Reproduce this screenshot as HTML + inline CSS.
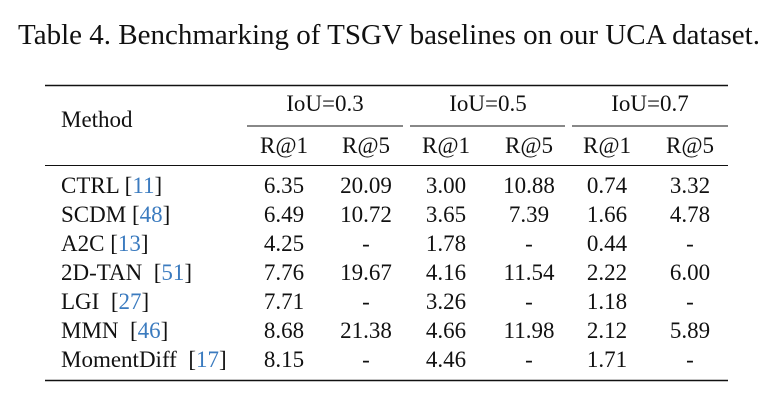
<!DOCTYPE html>
<html><head><meta charset="utf-8"><style>
body{margin:0;background:#fff;}
svg text{font-family:"Liberation Serif",serif;fill:#111;}
</style></head><body>
<svg width="778" height="411">
<text x="389" y="44" font-size="29" text-anchor="middle">Table 4. Benchmarking of TSGV baselines on our UCA dataset.</text>
<line x1="45" x2="728" y1="85.5" y2="85.5" stroke="#111" stroke-width="1.6"/>
<line x1="45" x2="728" y1="165.5" y2="165.5" stroke="#111" stroke-width="1"/>
<line x1="45" x2="728" y1="380.5" y2="380.5" stroke="#111" stroke-width="1.6"/>
<line x1="247" x2="403" y1="126" y2="126" stroke="#111" stroke-width="1"/>
<line x1="410" x2="565" y1="126" y2="126" stroke="#111" stroke-width="1"/>
<line x1="572" x2="728" y1="126" y2="126" stroke="#111" stroke-width="1"/>
<g font-size="23">
<text x="61" y="127">Method</text>
<text x="325" y="111" text-anchor="middle">IoU=0.3</text>
<text x="488" y="111" text-anchor="middle">IoU=0.5</text>
<text x="650" y="111" text-anchor="middle">IoU=0.7</text>
</g>
<g id="body" font-size="23"></g>
</svg>
<script>
const methods=["CTRL","SCDM","A2C","2D-TAN","LGI","MMN","MomentDiff"];
const refs=["11","48","13","51","27","46","17"];
const subHeaders=["R@1","R@5","R@1","R@5","R@1","R@5"];
const iou03r1=["6.35","6.49","4.25","7.76","7.71","8.68","8.15"];
const iou03r5=["20.09","10.72","-","19.67","-","21.38","-"];
const iou05r1=["3.00","3.65","1.78","4.16","3.26","4.66","4.46"];
const iou05r5=["10.88","7.39","-","11.54","-","11.98","-"];
const iou07r1=["0.74","1.66","0.44","2.22","1.18","2.12","1.71"];
const iou07r5=["3.32","4.78","-","6.00","-","5.89","-"];
const cols=[iou03r1,iou03r5,iou05r1,iou05r5,iou07r1,iou07r5];
const colX=[284,366,446,529,607,690];
const NS="http://www.w3.org/2000/svg";
const g=document.getElementById('body');
function txt(x,y,s,anchor){const t=document.createElementNS(NS,'text');t.setAttribute('x',x);t.setAttribute('y',y);if(anchor)t.setAttribute('text-anchor',anchor);t.textContent=s;g.appendChild(t);return t;}
subHeaders.forEach((h,i)=>{const t=txt(colX[i],153,h,'middle');

});
methods.forEach((m,r)=>{const y=193+r*29;
const t=txt(61,y,'','start');


t.appendChild(document.createTextNode(m+(m==="2D-TAN"||m==="LGI"||m==="MMN"||m==="MomentDiff"?"  ":" ")+"["));
const s=document.createElementNS(NS,'tspan');s.setAttribute('fill','#3b7bbf');s.style.fill='#3b7bbf';s.textContent=refs[r];t.appendChild(s);
t.appendChild(document.createTextNode("]"));
t.setAttribute('xml:space','preserve');t.style.whiteSpace='pre';
cols.forEach((c,ci)=>{const v=txt(colX[ci],y,c[r],'middle');

});
});
</script>
</body></html>
